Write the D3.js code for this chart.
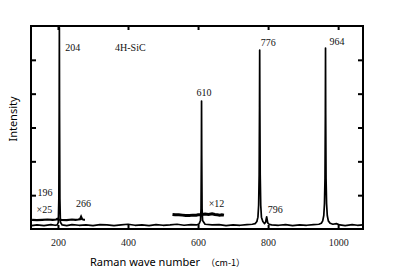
<!DOCTYPE html>
<html><head><meta charset="utf-8">
<script src="https://cdn.jsdelivr.net/npm/d3@7"></script>
<style>
html,body{margin:0;padding:0;background:#fff;}
svg{display:block;}
</style></head>
<body>
<svg id="chart" width="397" height="272"></svg>
<script>
// ---- data ----
const xTicks = [200, 400, 600, 800, 1000];
const yTicks = [1, 2, 3, 4, 5];

// main spectrum: wave number / intensity
const specWn = [125,140,160,180,192,198,201,202.5,203.5,204,204.5,205.5,207,212,225,240,260,280,300,320,340,360,380,400,420,440,460,480,500,520,540,560,580,595,603,607,608.5,609.5,610,610.5,611.5,613,620,640,660,680,700,720,740,755,763,768,771,773,774.5,775.5,776,776.5,777.5,779,781,785,790,793,795,796,797,799,803,810,830,850,870,890,910,930,945,952,956,959,961,962.5,963.5,964,964.5,965.5,967,969,972,977,985,995,1005,1020,1040,1055,1070];
const specI  = [0.10,0.12,0.10,0.13,0.11,0.12,0.20,0.90,3.50,5.95,3.50,0.90,0.20,0.12,0.10,0.13,0.11,0.12,0.10,0.13,0.12,0.10,0.12,0.14,0.11,0.12,0.10,0.13,0.11,0.12,0.14,0.11,0.13,0.12,0.15,0.25,0.60,2.20,3.78,2.20,0.60,0.25,0.14,0.12,0.13,0.10,0.12,0.11,0.13,0.14,0.16,0.22,0.35,0.70,1.60,3.60,5.29,3.60,1.60,0.70,0.35,0.22,0.16,0.20,0.32,0.36,0.30,0.18,0.14,0.12,0.11,0.13,0.10,0.12,0.11,0.13,0.14,0.17,0.24,0.40,0.75,1.50,3.40,5.35,3.40,1.50,0.75,0.40,0.24,0.17,0.14,0.16,0.12,0.10,0.13,0.11,0.12];

// inset x25 (low wave number region)
const ins25Wn = [126,140,155,170,185,195,198,200,210,225,240,250,258,263,266,269,272,277];
const ins25I  = [0.27,0.26,0.27,0.28,0.27,0.28,0.30,0.28,0.27,0.26,0.28,0.27,0.28,0.29,0.36,0.29,0.28,0.27];

// inset x12 (around 610)
const ins12Wn = [527,535,545,555,565,575,585,595,600,605,612,620,630,640,648,655,662,668,674];
const ins12I  = [0.43,0.42,0.42,0.41,0.40,0.40,0.41,0.41,0.42,0.42,0.43,0.44,0.43,0.45,0.43,0.42,0.41,0.42,0.41];

// labels
const peakLabels = [
  {t:"204", wn:204, i:5.26, dx:6},
  {t:"4H-SiC", wn:363, i:5.26, dx:0},
  {t:"610", wn:610, i:3.93, dx:-5},
  {t:"776", wn:776, i:5.41, dx:1},
  {t:"964", wn:964, i:5.44, dx:4},
  {t:"196", wn:196, i:0.98, dx:-19},
  {t:"×25", wn:196, i:0.47, dx:-20},
  {t:"266", wn:266, i:0.65, dx:-5},
  {t:"×12", wn:636, i:0.65, dx:-2},
  {t:"796", wn:796, i:0.47, dx:1}
];

// ---- drawing ----
const svg = d3.select("#chart");
const m = {l:31, r:34, t:26, b:43};
const W = 397, H = 272;
const x = d3.scaleLinear().domain([123, 1071]).range([m.l, W - m.r]);
const y = d3.scaleLinear().domain([0, 6]).range([H - m.b, m.t]);

const line = d3.line().x(d => x(d[0])).y(d => y(d[1]));

// spectrum
svg.append("path")
  .datum(d3.zip(specWn, specI))
  .attr("d", line)
  .attr("fill", "none").attr("stroke", "#000")
  .attr("stroke-width", 1.7).attr("stroke-linejoin", "round");

svg.append("path")
  .datum(d3.zip(ins25Wn, ins25I))
  .attr("d", line)
  .attr("fill", "none").attr("stroke", "#000")
  .attr("stroke-width", 2.2);

svg.append("path")
  .datum(d3.zip(ins12Wn, ins12I))
  .attr("d", line)
  .attr("fill", "none").attr("stroke", "#000")
  .attr("stroke-width", 3);

// frame
svg.append("rect")
  .attr("x", x.range()[0]).attr("y", y.range()[1])
  .attr("width", x.range()[1] - x.range()[0])
  .attr("height", y.range()[0] - y.range()[1])
  .attr("fill", "none").attr("stroke", "#000").attr("stroke-width", 2);

// axes
const serif = "'Liberation Serif','DejaVu Serif',serif";
const gB = svg.append("g").attr("transform", `translate(0,${y.range()[0]})`)
  .call(d3.axisBottom(x).tickValues(xTicks).tickSizeInner(-4).tickSizeOuter(0).tickPadding(10).tickFormat(d3.format("d")));
const gT = svg.append("g").attr("transform", `translate(0,${y.range()[1]})`)
  .call(d3.axisTop(x).tickValues(xTicks).tickSizeInner(-4).tickSizeOuter(0).tickFormat(""));
const gL = svg.append("g").attr("transform", `translate(${x.range()[0]},0)`)
  .call(d3.axisLeft(y).tickValues(yTicks).tickSizeInner(-5).tickSizeOuter(0).tickFormat(""));
const gR = svg.append("g").attr("transform", `translate(${x.range()[1]},0)`)
  .call(d3.axisRight(y).tickValues(yTicks).tickSizeInner(-5).tickSizeOuter(0).tickFormat(""));
[gB, gT, gL, gR].forEach(g => {
  g.select(".domain").remove();
  g.selectAll(".tick line").attr("stroke", "#000").attr("stroke-width", 2);
});
gB.selectAll(".tick text").attr("font-family", serif).attr("font-size", 10).attr("fill", "#222");

// peak labels
svg.append("g").selectAll("text").data(peakLabels).join("text")
  .attr("x", d => x(d.wn) + d.dx)
  .attr("y", d => y(d.i))
  .attr("font-family", serif).attr("font-size", 10).attr("fill", "#111")
  .text(d => d.t);

// axis titles
svg.append("text")
  .attr("transform", `translate(17,119) rotate(-90)`)
  .attr("text-anchor", "middle")
  .attr("font-family", "'Noto Sans','DejaVu Sans',sans-serif").attr("font-size", 11)
  .attr("fill", "#000")
  .text("Intensity");

const xt = svg.append("text")
  .attr("x", 90).attr("y", 266)
  .attr("font-family", "'Noto Sans','DejaVu Sans',sans-serif").attr("font-size", 11)
  .attr("fill", "#000");
xt.append("tspan").text("Raman wave number");
xt.append("tspan").attr("font-family", "'Noto Sans CJK SC',serif").attr("font-size", 9).attr("dx", 6).text("（cm-1）");
</script>
</body></html>
